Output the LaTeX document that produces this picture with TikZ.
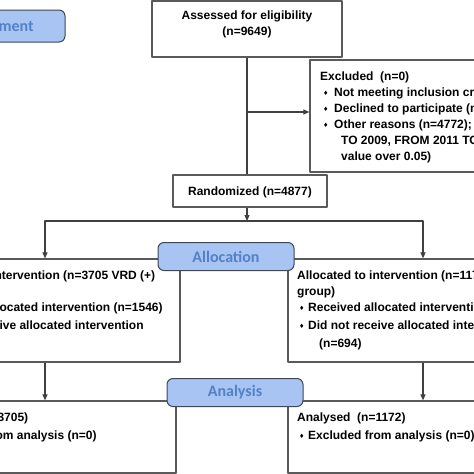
\documentclass[tikz,border=0pt]{standalone}
\usepackage{fontspec}
\setmainfont{Liberation Sans}
\newfontfamily\lblfont{Carlito}
\newfontfamily\symfont{DejaVu Sans}
\usetikzlibrary{arrows.meta}
\definecolor{lblfill}{HTML}{A7C4F2}
\definecolor{lbltext}{HTML}{5481C6}
\definecolor{lbledge}{HTML}{3F4654}
\definecolor{boxedge}{HTML}{5A5A5A}
\newcommand{\bul}[1]{\makebox[#1][l]{\raisebox{1.5pt}{\symfont\fontsize{6}{6}\selectfont ♦}}}
\begin{document}
\begin{tikzpicture}[x=1pt,y=-1pt,line join=round,
		box/.style={draw=boxedge,line width=1.2pt,fill=white,inner sep=0pt},
		lbl/.style={draw=lbledge,line width=1pt,fill=lblfill,rounded corners=6pt,minimum width=136pt,minimum height=28pt,inner sep=0pt,text=lbltext,font=\lblfont\bfseries\fontsize{16}{16}\selectfont},
		txt/.style={inner sep=0pt,align=left,anchor=north west,font=\bfseries\fontsize{12}{16}\selectfont},
		wire/.style={draw=black!75,line width=1.1pt},
		arr/.style={wire,-{Triangle[length=6pt,width=5pt]}}]
	\useasboundingbox (0,0) rectangle (474,474);
	\clip (0,0) rectangle (474,474);
	\path (247,112) coordinate (fork)
	(247,221) coordinate (hub)
	;
	\node[box,minimum width=190pt,minimum height=56pt] (assess) at (247,29) {};
	\node[box,minimum width=250pt,minimum height=112pt] (excl) at (435,116) {};
	\node[box,minimum width=154pt,minimum height=32pt] (rand) at (250,191) {};
	\node[box,minimum width=270pt,minimum height=103pt] (allocL) at (45,310.5) {};
	\node[box,minimum width=270pt,minimum height=103pt] (allocR) at (423,310.5) {};
	\node[box,minimum width=266pt,minimum height=72pt] (anaL) at (43,437) {};
	\node[box,minimum width=270pt,minimum height=72pt] (anaR) at (423,437) {};
	\draw[wire] (assess.south) -- (assess.south |- rand.north);
	\draw[arr] (fork) -- (fork -| excl.west);
	\draw[arr] (rand.south -| hub) -- (hub);
	\draw[arr] (hub) -| (allocL.north);
	\draw[arr] (hub) -| (allocR.north);
	\draw[arr] (allocL.south) -- (allocL.south |- anaL.north);
	\draw[arr] (allocR.south) -- (anaR.north);
	\node[lbl,minimum height=32pt] (enrol) at (-3,26) {Enrollment};
	\node[lbl] (alloc) at (226,256.5) {Allocation};
	\node[lbl] (anal) at (235,392.5) {Analysis};
	\node[txt,anchor=north,align=center] (assessT) at (247,11) {Assessed for eligibility\\(n=9649)};
	\node[txt] (exclT) at (320,72) {Excluded\ \ (n=0)\\
		\hspace*{3pt}\bul{11pt}Not meeting inclusion criteria (n=0)\\
		\hspace*{3pt}\bul{11pt}Declined to participate (n=0)\\
		\hspace*{3pt}\bul{11pt}Other reasons (n=4772);\\
		\hspace*{21pt}TO 2009, FROM 2011 TO\\
		\hspace*{21pt}value over 0.05)};
	\node[txt,anchor=base,align=center] (randT) at (250,195) {Randomized (n=4877)};
	\node[txt] (allocLT) at (-81,271) {Allocated to intervention (n=3705 VRD (+)\\
		group)\\
		\hspace*{2pt}\bul{9pt}Received allocated intervention (n=1546)\\[2pt]
		\hspace*{2pt}\bul{9pt}Did not receive allocated intervention\\[2pt]
		\hspace*{22pt}(n=2159)};
	\node[txt] (allocRT) at (297,271) {Allocated to intervention (n=1172 VRD (-)\\
		group)\\
		\hspace*{2pt}\bul{9pt}Received allocated intervention (n=478)\\[2pt]
		\hspace*{2pt}\bul{9pt}Did not receive allocated intervention\\[2pt]
		\hspace*{22pt}(n=694)};
	\node[txt] (anaLT) at (-81,413) {Analysed\ \ (n=3705)\\[2pt]
		\hspace*{2pt}\bul{9pt}Excluded from analysis (n=0)};
	\node[txt] (anaRT) at (297,413) {Analysed\ \ (n=1172)\\[2pt]
		\hspace*{2pt}\bul{9pt}Excluded from analysis (n=0)};
\end{tikzpicture}
\end{document}
